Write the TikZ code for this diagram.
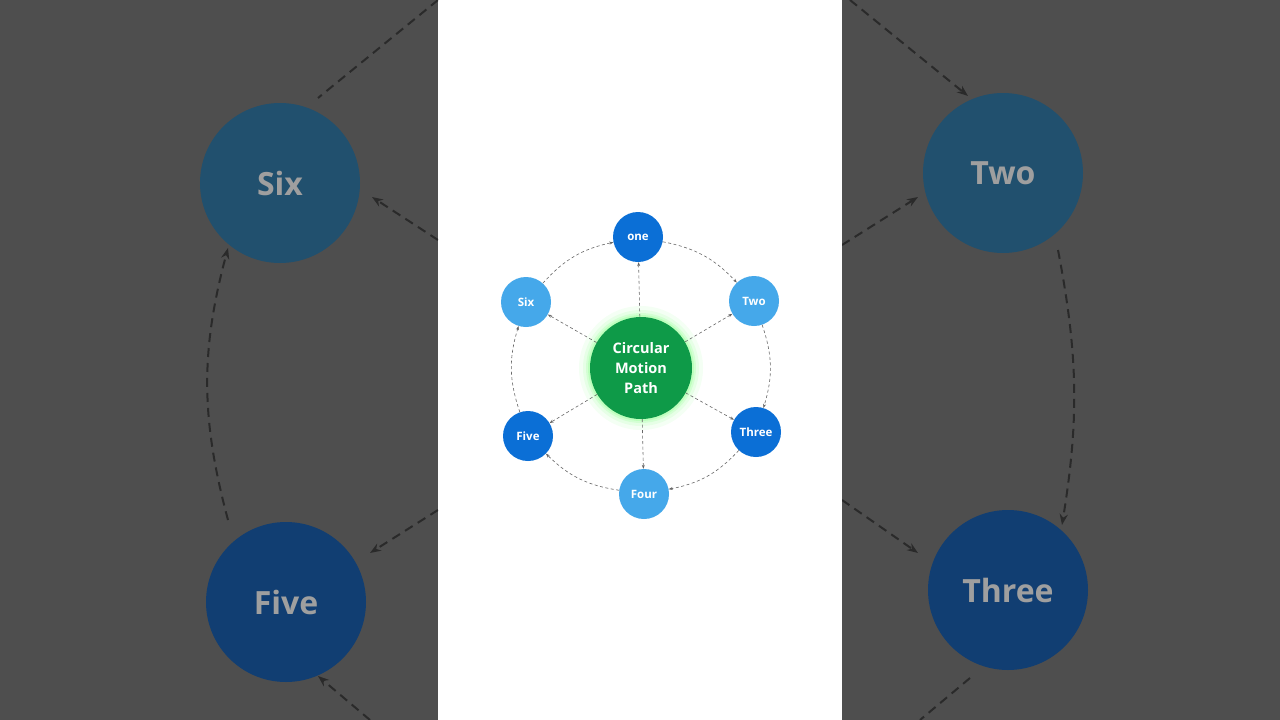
\documentclass[tikz,border=0pt]{standalone}
\usepackage{fontspec}
\setmainfont{Open Sans}
\usetikzlibrary{arrows.meta}
\definecolor{panel}{HTML}{4E4E4E}
\definecolor{dblue}{HTML}{0B6FD6}
\definecolor{lblue}{HTML}{45A8EA}
\definecolor{cgreen}{HTML}{0E9A48}
\definecolor{bigA}{HTML}{21506E}
\definecolor{bigB}{HTML}{113E72}
\definecolor{darr}{HTML}{2A2A2A}
\tikzset{
 small/.style={circle,minimum size=50pt,inner sep=0pt,text=white,font=\bfseries\fontsize{11.5}{13}\selectfont},
 dk/.style={small,fill=dblue},
 lt/.style={small,fill=lblue},
 big/.style={circle,minimum size=160pt,inner sep=0pt,text=gray!75,font=\bfseries\fontsize{32}{38}\selectfont},
 con/.style={draw=gray!80!black,dash pattern=on 3pt off 2.5pt,line width=0.6pt,-{Stealth[length=4pt]}},
 bcon/.style={draw=darr,dash pattern=on 9pt off 6pt,line width=2pt,-{Stealth[length=11pt]}},
}
\begin{document}
\begin{tikzpicture}[x=1pt,y=-1pt]
\useasboundingbox (0,0) rectangle (1280,720);
\fill[panel] (0,0) rectangle (1280,720);
\fill[white] (438,0) rectangle (842,720);
% side panels
\begin{scope}
\clip (0,0) rectangle (438,720);
\node[big,fill=bigA] (B6) at (280,183) {Six};
\node[big,fill=bigB] (B5) at (286,602) {Five};
\coordinate (l1) at (228,520); \coordinate (l2) at (228,248);
\coordinate (l3) at (438,240); \coordinate (l4) at (372,197);
\coordinate (l5) at (438,510); \coordinate (l6) at (370,553);
\coordinate (l7) at (370,720); \coordinate (l8) at (318,676);
\coordinate (l9) at (438,0); \coordinate (l10) at (318,98);
\draw[bcon] (l1) to[bend left=15] (l2);
\draw[bcon] (l3) -- (l4);
\draw[bcon] (l5) -- (l6);
\draw[bcon] (l7) -- (l8);
\draw[bcon,-] (l9) -- (l10);
\end{scope}
\begin{scope}
\clip (842,0) rectangle (1280,720);
\node[big,fill=bigA] (B2) at (1003,173) {Two};
\node[big,fill=bigB] (B3) at (1008,590) {Three};
\coordinate (r1) at (850,0); \coordinate (r2) at (968,96);
\coordinate (r3) at (842,245); \coordinate (r4) at (918,197);
\coordinate (r5) at (1058,250); \coordinate (r6) at (1062,525);
\coordinate (r7) at (842,500); \coordinate (r8) at (918,553);
\coordinate (r9) at (970,678); \coordinate (r10) at (920,720);
\draw[bcon] (r1) -- (r2);
\draw[bcon] (r3) -- (r4);
\draw[bcon] (r5) to[bend left=10] (r6);
\draw[bcon] (r7) -- (r8);
\draw[bcon,-] (r9) -- (r10);
\end{scope}
% center
\foreach \r/\o in {62/18,58/25,55/35,53/50}{\fill[green!60!white,opacity=\o/100*0.4] (641,368) circle (\r);}
\node[circle,minimum size=102pt,inner sep=0pt,fill=cgreen,text=white,align=center,font=\bfseries\fontsize{14.5}{20}\selectfont] (C) at (641,368) {Circular\\Motion\\Path};
\node[dk] (n1) at (638,237) {one};
\node[lt] (n2) at (754,301) {Two};
\node[dk] (n3) at (756,432) {Three};
\node[lt] (n4) at (644,494) {Four};
\node[dk] (n5) at (528,436) {Five};
\node[lt] (n6) at (526,302) {Six};
\foreach \n in {n1,n2,n3,n4,n5,n6}{\draw[con] (C) -- (\n);}
\draw[con] (n1) to[bend left=18] (n2);
\draw[con] (n2) to[bend left=18] (n3);
\draw[con] (n3) to[bend left=18] (n4);
\draw[con] (n4) to[bend left=18] (n5);
\draw[con] (n5) to[bend left=18] (n6);
\draw[con] (n6) to[bend left=18] (n1);
\end{tikzpicture}
\end{document}
